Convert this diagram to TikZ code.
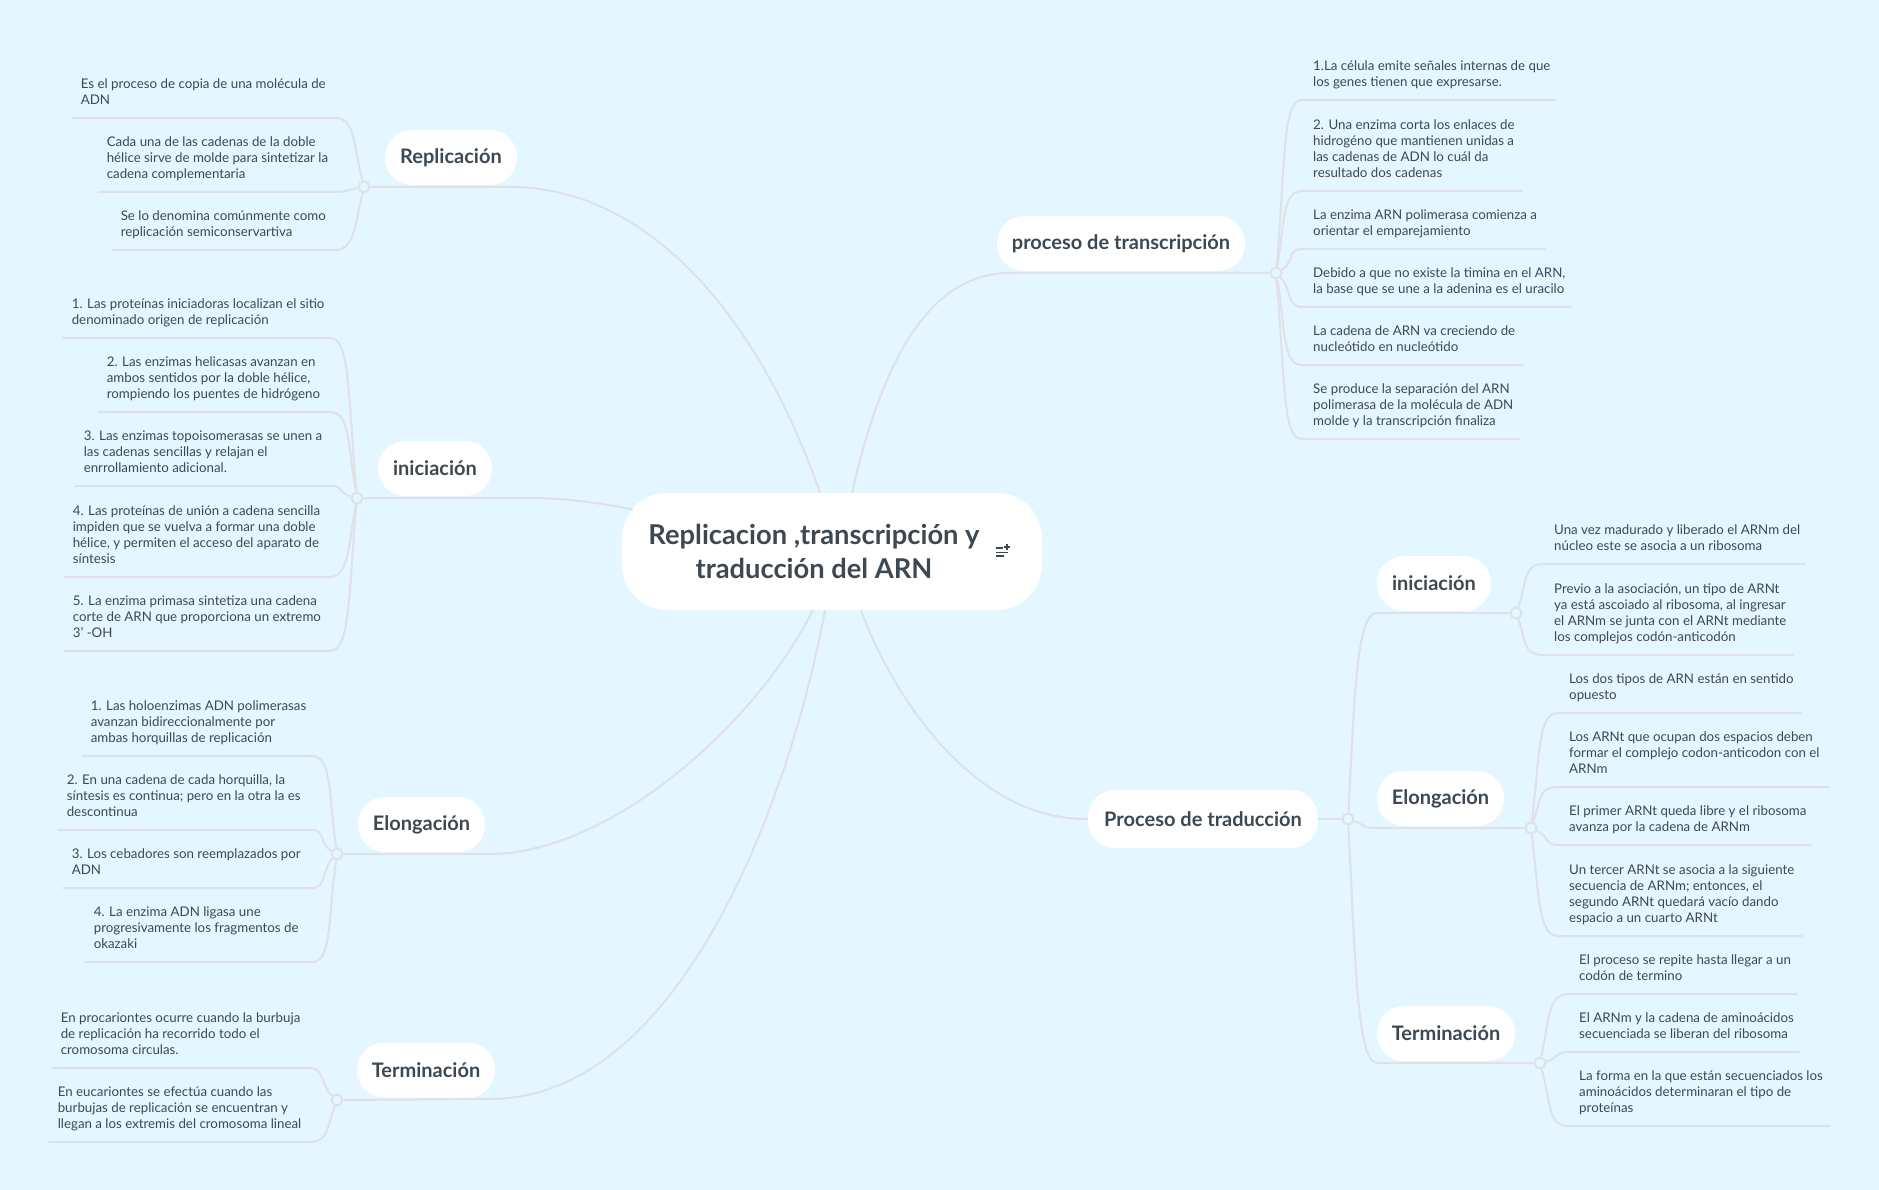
\documentclass[tikz,border=0pt]{standalone}
\usepackage{fontspec}
\setmainfont{Lato}
\usetikzlibrary{positioning}
\definecolor{bgblue}{HTML}{E4F6FF}
\definecolor{linegray}{HTML}{DEE2E8}
\definecolor{inkgray}{HTML}{3E4852}
\tikzset{
    link/.style={draw=linegray,line width=2pt},
    knob/.style={circle,draw=linegray,line width=2pt,fill=bgblue,minimum size=11pt,inner sep=0pt},
    pill/.style={fill=white,rounded corners=27pt,minimum height=55pt,inner sep=0pt,text=inkgray,
        font=\fontsize{20}{24}\selectfont\bfseries},
    mainbox/.style={fill=white,rounded corners=45pt,minimum width=420pt,minimum height=117pt,inner sep=0pt,
        text=inkgray,align=center,font=\fontsize{27.3}{34}\selectfont\bfseries},
    leaf/.style={inner xsep=0pt,inner ysep=8.7pt,text=inkgray,align=flush left,
        font=\fontsize{13.3}{16}\selectfont,execute at end node=\strut},
    leaf l/.style={leaf,anchor=south east,execute at begin node={\leftskip=9pt}},
    leaf r/.style={leaf,anchor=south west,execute at begin node={\leftskip=11pt}}
}
\begin{document}
\begin{tikzpicture}[x=1pt,y=-1pt]

    \fill[bgblue] (0,0) rectangle (1879,1190);
    \useasboundingbox (0,0) rectangle (1879,1190);

    % Central topic
    \node[mainbox] (main) at (832,551.5) {Replicacion ,transcripción y\hspace*{36pt}\\traducción del ARN\hspace*{36pt}};

    % Icon
    \draw[inkgray,line width=1.6pt] (996,548) -- ++(7,0) (996,552.3) -- ++(12,0) (996,556) -- ++(8,0);
    \draw[inkgray,line width=1.2pt] (1007,544) -- ++(0,6) (1004,547) -- ++(6,0);

    % Left branches
    \node[pill,minimum width=132pt] (prep) at (451,157.5) {Replicación};
    \node[pill,minimum width=114pt] (pini) at (435,468.5) {iniciación};
    \node[pill,minimum width=127pt] (pelo) at (421.5,824.5) {Elongación};
    \node[pill,minimum width=138pt] (pter) at (426,1070) {Terminación};

    \node[knob] (krep) at (364,187) {};
    \node[knob] (kini) at (357,498) {};
    \node[knob] (kelo) at (337,854) {};
    \node[knob] (kter) at (337,1100) {};

    \draw[link] (krep) -- (510,187) .. controls (650,187) and (760,320) .. ([xshift=-12pt]main.north);
    \draw[link] (kini) -- (530,498) .. controls (565,498) and (600,503) .. ([xshift=11pt,yshift=42pt]main.west);
    \draw[link] (kelo) -- (489,854) .. controls (610,854) and (755,725) .. ([xshift=-19pt]main.south);
    \draw[link] (kter) -- (490,1099) .. controls (680,1099) and (790,800) .. ([xshift=-7pt]main.south);

    % Right branches
    \node[pill,minimum width=248pt] (ptra) at (1121,243.5) {proceso de transcripción};
    \node[pill,minimum width=230pt,minimum height=58pt] (ppro) at (1203,819) {Proceso de traducción};
    \node[pill,minimum width=114pt] (qini) at (1434,583.5) {iniciación};
    \node[pill,minimum width=127pt] (qelo) at (1440.5,798.5) {Elongación};
    \node[pill,minimum width=138pt] (qter) at (1446,1033.5) {Terminación};

    \node[knob] (ktra) at (1276,273) {};
    \node[knob] (kpro) at (1348,819) {};
    \node[knob] (lini) at (1516,613) {};
    \node[knob] (lelo) at (1531,828) {};
    \node[knob] (lter) at (1540,1063) {};

    \draw[link] (ktra) -- (1010,273) .. controls (925,273) and (880,370) .. ([xshift=20pt]main.north);
    \draw[link] (ppro) -- (1086,819) .. controls (970,819) and (890,690) .. ([xshift=29pt]main.south);
    \draw[link] (ppro.east) -- (kpro);
    \draw[link] (kpro) to[out=87,in=180,out distance=120pt,in distance=20pt] (qini.west |- lini) -- (lini);
    \draw[link] (kpro) to[out=-20,in=180,out distance=15pt,in distance=15pt] (qelo.west |- lelo) -- (lelo);
    \draw[link] (kpro) to[out=-87,in=180,out distance=130pt,in distance=20pt] (qter.west |- lter) -- (lter);

    % Replicacion
    \node[leaf l,text width=263pt] (rep1) at (335,118) {Es el proceso de copia de una molécula de\\ADN};
    \node[leaf l,text width=237pt] (rep2) at (335,192) {Cada una de las cadenas de la doble\\hélice sirve de molde para sintetizar la\\cadena complementaria};
    \node[leaf l,text width=223pt] (rep3) at (335,250) {Se lo denomina comúnmente como\\replicación semiconservartiva};
    \draw[link] (krep) to[out=104,in=0,out distance=38pt,in distance=20pt] (rep1.south east) -- (rep1.south west);
    \draw[link] (krep) to[out=190,in=0,out distance=12pt,in distance=12pt] (rep2.south east) -- (rep2.south west);
    \draw[link] (krep) to[out=256,in=0,out distance=30pt,in distance=20pt] (rep3.south east) -- (rep3.south west);

    % Iniciacion
    \node[leaf l,text width=267pt] (ini1) at (330,338) {1. Las proteínas iniciadoras localizan el sitio\\denominado origen de replicación};
    \node[leaf l,text width=232pt] (ini2) at (330,412) {2. Las enzimas helicasas avanzan en\\ambos sentidos por la doble hélice,\\rompiendo los puentes de hidrógeno};
    \node[leaf l,text width=255pt] (ini3) at (330,486) {3. Las enzimas topoisomerasas se unen a\\las cadenas sencillas y relajan el\\enrrollamiento adicional.};
    \node[leaf l,text width=266pt] (ini4) at (330,577) {4. Las proteínas de unión a cadena sencilla\\impiden que se vuelva a formar una doble\\hélice, y permiten el acceso del aparato de\\síntesis};
    \node[leaf l,text width=266pt] (ini5) at (330,651) {5. La enzima primasa sintetiza una cadena\\corte de ARN que proporciona un extremo\\3' -OH};
    \draw[link] (kini) to[out=95,in=0,out distance=100pt,in distance=20pt] (ini1.south east) -- (ini1.south west);
    \draw[link] (kini) to[out=100,in=0,out distance=50pt,in distance=20pt] (ini2.south east) -- (ini2.south west);
    \draw[link] (kini) to[out=165,in=0,out distance=15pt,in distance=15pt] (ini3.south east) -- (ini3.south west);
    \draw[link] (kini) to[out=260,in=0,out distance=45pt,in distance=18pt] (ini4.south east) -- (ini4.south west);
    \draw[link] (kini) to[out=265,in=0,out distance=95pt,in distance=20pt] (ini5.south east) -- (ini5.south west);

    % Elongacion
    \node[leaf l,text width=230pt] (elo1) at (312,756) {1. Las holoenzimas ADN polimerasas\\avanzan bidireccionalmente por\\ambas horquillas de replicación};
    \node[leaf l,text width=254pt] (elo2) at (312,830) {2. En una cadena de cada horquilla, la\\síntesis es continua; pero en la otra la es\\descontinua};
    \node[leaf l,text width=249pt] (elo3) at (312,888) {3. Los cebadores son reemplazados por\\ADN};
    \node[leaf l,text width=227pt] (elo4) at (312,962) {4. La enzima ADN ligasa une\\progresivamente los fragmentos de\\okazaki};
    \draw[link] (kelo) to[out=98,in=0,out distance=55pt,in distance=20pt] (elo1.south east) -- (elo1.south west);
    \draw[link] (kelo) to[out=150,in=0,out distance=15pt,in distance=14pt] (elo2.south east) -- (elo2.south west);
    \draw[link] (kelo) to[out=225,in=0,out distance=15pt,in distance=15pt] (elo3.south east) -- (elo3.south west);
    \draw[link] (kelo) to[out=262,in=0,out distance=60pt,in distance=20pt] (elo4.south east) -- (elo4.south west);

    % Terminacion
    \node[leaf l,text width=258pt] (ter1) at (310,1068) {En procariontes ocurre cuando la burbuja\\de replicación ha recorrido todo el\\cromosoma circulas.};
    \node[leaf l,text width=261pt] (ter2) at (310,1142) {En eucariontes se efectúa cuando las\\burbujas de replicación se encuentran y\\llegan a los extremis del cromosoma lineal};
    \draw[link] (kter) to[out=140,in=0,out distance=15pt,in distance=15pt] (ter1.south east) -- (ter1.south west);
    \draw[link] (kter) to[out=250,in=0,out distance=22pt,in distance=18pt] (ter2.south east) -- (ter2.south west);

    % Transcripcion
    \node[leaf r,text width=253pt] (tra1) at (1302,100) {1.La célula emite señales internas de que\\los genes tienen que expresarse.};
    \node[leaf r,text width=220pt] (tra2) at (1302,191) {2. Una enzima corta los enlaces de\\hidrogéno que mantienen unidas a\\las cadenas de ADN lo cuál da\\resultado dos cadenas};
    \node[leaf r,text width=243pt] (tra3) at (1302,249) {La enzima ARN polimerasa comienza a\\orientar el emparejamiento};
    \node[leaf r,text width=269pt] (tra4) at (1302,307) {Debido a que no existe la timina en el ARN,\\la base que se une a la adenina es el uracilo};
    \node[leaf r,text width=221pt] (tra5) at (1302,365) {La cadena de ARN va creciendo de\\nucleótido en nucleótido};
    \node[leaf r,text width=218pt] (tra6) at (1302,439) {Se produce la separación del ARN\\polimerasa de la molécula de ADN\\molde y la transcripción finaliza};
    \draw[link] (ktra) to[out=85,in=180,out distance=105pt,in distance=20pt] (tra1.south west) -- (tra1.south east);
    \draw[link] (ktra) to[out=80,in=180,out distance=45pt,in distance=20pt] (tra2.south west) -- (tra2.south east);
    \draw[link] (ktra) to[out=30,in=180,out distance=15pt,in distance=15pt] (tra3.south west) -- (tra3.south east);
    \draw[link] (ktra) to[out=-45,in=180,out distance=15pt,in distance=15pt] (tra4.south west) -- (tra4.south east);
    \draw[link] (ktra) to[out=-80,in=180,out distance=50pt,in distance=20pt] (tra5.south west) -- (tra5.south east);
    \draw[link] (ktra) to[out=-85,in=180,out distance=100pt,in distance=20pt] (tra6.south west) -- (tra6.south east);

    % Traduccion, iniciacion
    \node[leaf r,text width=262pt] (qin1) at (1543,564) {Una vez madurado y liberado el ARNm del\\núcleo este se asocia a un ribosoma};
    \node[leaf r,text width=250pt] (qin2) at (1543,655) {Previo a la asociación, un tipo de ARNt\\ya está ascoiado al ribosoma, al ingresar\\el ARNm se junta con el ARNt mediante\\los complejos codón-anticodón};
    \draw[link] (lini) to[out=70,in=180,out distance=25pt,in distance=20pt] (qin1.south west) -- (qin1.south east);
    \draw[link] (lini) to[out=-70,in=180,out distance=22pt,in distance=20pt] (qin2.south west) -- (qin2.south east);

    % Traduccion, elongacion
    \node[leaf r,text width=243pt] (qel1) at (1558,713) {Los dos tipos de ARN están en sentido\\opuesto};
    \node[leaf r,text width=271pt] (qel2) at (1558,787) {Los ARNt que ocupan dos espacios deben\\formar el complejo codon-anticodon con el\\ARNm};
    \node[leaf r,text width=253pt] (qel3) at (1558,845) {El primer ARNt queda libre y el ribosoma\\avanza por la cadena de ARNm};
    \node[leaf r,text width=244pt] (qel4) at (1558,936) {Un tercer ARNt se asocia a la siguiente\\secuencia de ARNm; entonces, el\\segundo ARNt quedará vacío dando\\espacio a un cuarto ARNt};
    \draw[link] (lelo) to[out=83,in=180,out distance=70pt,in distance=20pt] (qel1.south west) -- (qel1.south east);
    \draw[link] (lelo) to[out=70,in=180,out distance=22pt,in distance=20pt] (qel2.south west) -- (qel2.south east);
    \draw[link] (lelo) to[out=-25,in=180,out distance=14pt,in distance=14pt] (qel3.south west) -- (qel3.south east);
    \draw[link] (lelo) to[out=-83,in=180,out distance=60pt,in distance=20pt] (qel4.south west) -- (qel4.south east);

    % Traduccion, terminacion
    \node[leaf r,text width=229pt] (qte1) at (1568,994) {El proceso se repite hasta llegar a un\\codón de termino};
    \node[leaf r,text width=232pt] (qte2) at (1568,1052) {El ARNm y la cadena de aminoácidos\\secuenciada se liberan del ribosoma};
    \node[leaf r,text width=262pt] (qte3) at (1568,1126) {La forma en la que están secuenciados los\\aminoácidos determinaran el tipo de\\proteínas};
    \draw[link] (lter) to[out=78,in=180,out distance=38pt,in distance=20pt] (qte1.south west) -- (qte1.south east);
    \draw[link] (lter) to[out=15,in=180,out distance=14pt,in distance=14pt] (qte2.south west) -- (qte2.south east);
    \draw[link] (lter) to[out=-75,in=180,out distance=35pt,in distance=20pt] (qte3.south west) -- (qte3.south east);

\end{tikzpicture}
\end{document}
